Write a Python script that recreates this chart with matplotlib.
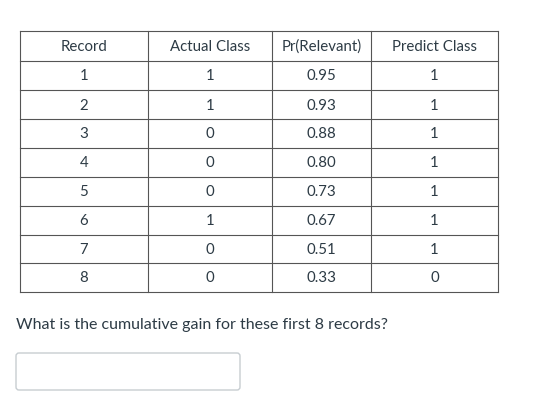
import matplotlib.pyplot as plt
from matplotlib.patches import FancyBboxPatch

plt.rcParams['font.family'] = ['Lato', 'DejaVu Sans']

headers = ["Record", "Actual Class", "Pr(Relevant)", "Predict Class"]
records = [1, 2, 3, 4, 5, 6, 7, 8]
actual = [1, 1, 0, 0, 0, 1, 0, 0]
prob = ["0.95", "0.93", "0.88", "0.80", "0.73", "0.67", "0.51", "0.33"]
predict = [1, 1, 1, 1, 1, 1, 1, 0]
question = "What is the cumulative gain for these first 8 records?"

W, H = 557, 402
fig = plt.figure(figsize=(W / 100, H / 100), dpi=100)
ax = fig.add_axes([0, 0, 1, 1])
ax.set_xlim(0, W)
ax.set_ylim(H, 0)
ax.axis('off')

col_x = [20, 148, 272, 371, 498]
row_y = [32, 62, 91, 120, 149, 178, 207, 236, 264, 293]

# grid
for y in row_y:
    ax.plot([col_x[0], col_x[-1]], [y, y], color='#555555', lw=0.8)
for x in col_x:
    ax.plot([x, x], [row_y[0], row_y[-1]], color='#555555', lw=0.8)

txt = dict(ha='center', va='center', fontsize=10.8, color='#2d3b45')
for i, h in enumerate(headers):
    ax.text((col_x[i] + col_x[i + 1]) / 2, (row_y[0] + row_y[1]) / 2, h, **txt)

for r in range(len(records)):
    yc = (row_y[r + 1] + row_y[r + 2]) / 2
    vals = [records[r], actual[r], prob[r], predict[r]]
    for i, v in enumerate(vals):
        ax.text((col_x[i] + col_x[i + 1]) / 2, yc, str(v), **txt)

ax.text(16, 325, question, ha='left', va='center', fontsize=11.5, color='#2d3b45')

box = FancyBboxPatch((16, 354), 224, 37, boxstyle='round,pad=0,rounding_size=3',
                     fc='white', ec='#c7cdd1', lw=1)
ax.add_patch(box)

fig.savefig('out.png', dpi=100)
